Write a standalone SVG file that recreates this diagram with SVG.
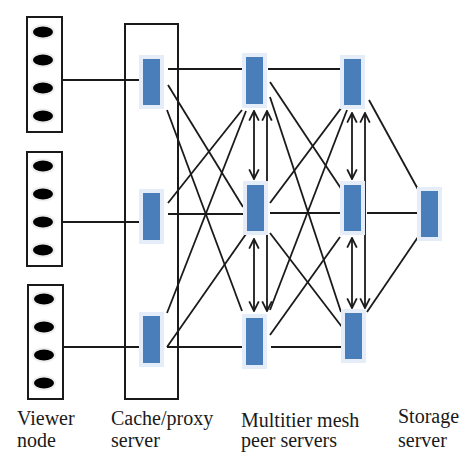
<svg xmlns="http://www.w3.org/2000/svg" width="474" height="470" viewBox="0 0 474 470">
<defs>
<style>
.box{fill:none;stroke:#1a1a1a;stroke-width:2}
.dot{fill:#000;stroke:#eee;stroke-width:2}
.srv{fill:#4a7ebb;stroke:#e4edf8;stroke-width:4}
.ln{stroke:#1a1a1a;stroke-width:1.8;fill:none}
.ar{stroke:#1a1a1a;stroke-width:1.8;fill:none;marker-start:url(#ah);marker-end:url(#ah)}
text{font-family:"Liberation Serif","Times New Roman",serif;font-size:20px;fill:#1a1a1a}
</style>
<marker id="ah" viewBox="0 0 10 10" refX="9" refY="5" markerWidth="12" markerHeight="12" markerUnits="userSpaceOnUse" orient="auto-start-reverse">
<path d="M1,1 L9,5 L1,9" fill="none" stroke="#1a1a1a" stroke-width="1.5"/>
</marker>
</defs>
<rect width="474" height="470" fill="#fff"/>

<g id="connectors">
<!-- viewer to cache -->
<line class="ln" x1="62" y1="80" x2="140" y2="80"/>
<line class="ln" x1="62" y1="222" x2="140" y2="222"/>
<line class="ln" x1="63" y1="347" x2="142" y2="347"/>
<!-- cache to mesh tier 1 -->
<line class="ln" x1="168" y1="69" x2="243" y2="69"/>
<line class="ln" x1="168" y1="214" x2="244" y2="214"/>
<line class="ln" x1="167" y1="347" x2="245" y2="347"/>
<line class="ln" x1="168" y1="85" x2="243" y2="207"/>
<line class="ln" x1="167" y1="110" x2="242" y2="311"/>
<line class="ln" x1="168" y1="203" x2="242" y2="110"/>
<line class="ln" x1="167" y1="313" x2="246" y2="111"/>
<line class="ln" x1="167" y1="347" x2="246" y2="234"/>
<!-- tier 1 to tier 2 -->
<line class="ln" x1="268" y1="69" x2="341" y2="69"/>
<line class="ln" x1="270" y1="213" x2="341" y2="213"/>
<line class="ln" x1="271" y1="347" x2="342" y2="347"/>
<line class="ln" x1="270" y1="82" x2="342" y2="190"/>
<line class="ln" x1="270" y1="97" x2="341" y2="312"/>
<line class="ln" x1="270" y1="203" x2="342" y2="107"/>
<line class="ln" x1="270" y1="233" x2="342" y2="327"/>
<line class="ln" x1="270" y1="310" x2="347" y2="110"/>
<line class="ln" x1="340" y1="237" x2="270" y2="335"/>
<!-- tier 2 to storage -->
<line class="ln" x1="367" y1="213" x2="418" y2="213"/>
<line class="ln" x1="369" y1="100" x2="420" y2="193"/>
<line class="ln" x1="418" y1="237" x2="367" y2="312"/>
<!-- vertical arrows -->
<line class="ar" x1="254" y1="111" x2="254" y2="179"/>
<line class="ar" x1="267" y1="111" x2="267" y2="311"/>
<line class="ar" x1="254" y1="239" x2="254" y2="311"/>
<line class="ar" x1="352" y1="113" x2="352" y2="179"/>
<line class="ar" x1="365" y1="113" x2="365" y2="308"/>
<line class="ar" x1="352" y1="238" x2="352" y2="308"/>
</g>

<g id="viewer1">
<rect class="box" x="27" y="17" width="35" height="115"/>
<ellipse class="dot" cx="43" cy="32" rx="11" ry="6.5"/>
<ellipse class="dot" cx="43" cy="60" rx="11" ry="6.5"/>
<ellipse class="dot" cx="43" cy="88" rx="11" ry="6.5"/>
<ellipse class="dot" cx="43" cy="116" rx="11" ry="6.5"/>
</g>
<g id="viewer2">
<rect class="box" x="27" y="152" width="35" height="114"/>
<ellipse class="dot" cx="43" cy="166" rx="11" ry="6.5"/>
<ellipse class="dot" cx="43" cy="194" rx="11" ry="6.5"/>
<ellipse class="dot" cx="43" cy="222" rx="11" ry="6.5"/>
<ellipse class="dot" cx="43" cy="250" rx="11" ry="6.5"/>
</g>
<g id="viewer3">
<rect class="box" x="28" y="285" width="35" height="114"/>
<ellipse class="dot" cx="44" cy="299" rx="11" ry="6.5"/>
<ellipse class="dot" cx="44" cy="327" rx="11" ry="6.5"/>
<ellipse class="dot" cx="44" cy="355" rx="11" ry="6.5"/>
<ellipse class="dot" cx="44" cy="383" rx="11" ry="6.5"/>
</g>

<g id="cache-group">
<rect class="box" x="125" y="24" width="53" height="375"/>
</g>
<g id="cache1"><rect class="srv" x="141" y="57" width="21" height="50"/></g>
<g id="cache2"><rect class="srv" x="141" y="191" width="21" height="51"/></g>
<g id="cache3"><rect class="srv" x="141" y="314" width="21" height="51"/></g>

<g id="mesh1-top"><rect class="srv" x="244" y="55" width="21" height="51"/></g>
<g id="mesh1-mid"><rect class="srv" x="245" y="183" width="21" height="50"/></g>
<g id="mesh1-bot"><rect class="srv" x="244" y="316" width="21" height="51"/></g>
<g id="mesh2-top"><rect class="srv" x="342" y="57" width="21" height="50"/></g>
<g id="mesh2-mid"><rect class="srv" x="342" y="183" width="21" height="50"/></g>
<g id="mesh2-bot"><rect class="srv" x="343" y="311" width="21" height="50"/></g>
<g id="storage"><rect class="srv" x="419" y="189" width="21" height="50"/></g>

<g id="labels">
<text x="17" y="425">Viewer</text>
<text x="17" y="447">node</text>
<text x="111" y="425">Cache/proxy</text>
<text x="111" y="447">server</text>
<text x="241" y="427">Multitier mesh</text>
<text x="241" y="447">peer servers</text>
<text x="398" y="423">Storage</text>
<text x="398" y="447">server</text>
</g>
</svg>
